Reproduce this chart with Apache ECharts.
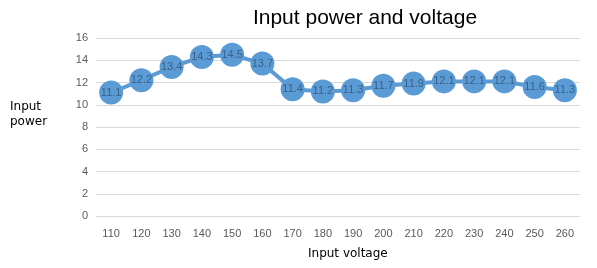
<!DOCTYPE html>
<html>
<head>
<meta charset="utf-8">
<script src="https://cdn.jsdelivr.net/npm/echarts@6/dist/echarts.min.js"></script>
<style>html,body{margin:0;padding:0;background:#fff}#c{width:597px;height:268px}</style>
</head>
<body>
<div id="c"></div>
<script>
const categories = ['110','120','130','140','150','160','170','180','190','200','210','220','230','240','250','260'];
const inputPower = [11.1,12.2,13.4,14.3,14.5,13.7,11.4,11.2,11.3,11.7,11.9,12.1,12.1,12.1,11.6,11.3];
const titleText = 'Input power and voltage';
const yName = 'Input\npower';
const xName = 'Input voltage';

const chart = echarts.init(document.getElementById('c'), null, {renderer: 'canvas'});
chart.setOption({
  animation: false,
  backgroundColor: '#fff',
  title: {
    text: titleText, left: 360, top: 3, textAlign: 'center',
    textStyle: {fontFamily: 'Liberation Sans', fontSize: 21, fontWeight: 'normal', color: '#000'}
  },
  graphic: [
    {type: 'text', left: 10, top: 99, style: {text: yName, font: '12px "DejaVu Sans"', fill: '#000', lineHeight: 15}},
    {type: 'text', left: 308, top: 248, style: {text: xName, font: '12px "DejaVu Sans"', fill: '#000'}}
  ],
  grid: {left: 96, right: 17, top: 38, bottom: 52, containLabel: false},
  xAxis: {
    type: 'category', data: categories, boundaryGap: true,
    axisLine: {show: false}, axisTick: {show: false},
    axisLabel: {color: '#595959', fontFamily: 'Liberation Sans', fontSize: 11, margin: 12}
  },
  yAxis: {
    type: 'value', min: 0, max: 16, interval: 2,
    axisLine: {show: false}, axisTick: {show: false},
    axisLabel: {color: '#595959', fontFamily: 'Liberation Sans', fontSize: 11, margin: 8},
    splitLine: {lineStyle: {color: '#d9d9d9', width: 1}}
  },
  series: [{
    type: 'line', data: inputPower,
    symbol: 'circle', symbolSize: 24,
    lineStyle: {color: '#5b9bd5', width: 4},
    itemStyle: {color: '#5b9bd5'},
    label: {show: true, position: 'inside', color: '#3a6086', fontFamily: 'Liberation Sans', fontSize: 11}
  }]
});
</script>
</body>
</html>
